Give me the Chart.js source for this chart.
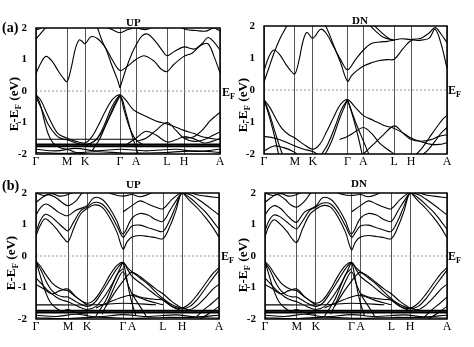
<!DOCTYPE html>
<html>
<head>
<meta charset="utf-8">
<script src="https://cdn.jsdelivr.net/npm/chart.js@4"></script>
<style>
body{margin:0;background:#fff;width:474px;height:347px;position:relative;overflow:hidden;font-family:"Liberation Serif",serif;color:#000;}
canvas{position:absolute;}
.lbl{position:absolute;font-weight:bold;white-space:nowrap;line-height:1;}
.yl{position:absolute;font-weight:bold;white-space:nowrap;font-size:13px;line-height:1;transform:translate(-50%,-50%) rotate(-90deg);}
.ef{position:absolute;font-weight:bold;font-size:12px;line-height:1;}
sub{font-size:70%;vertical-align:-3px;}
</style>
</head>
<body>
<canvas id="c1" width="237" height="172" style="left:0;top:0"></canvas>
<canvas id="c2" width="237" height="172" style="left:237px;top:0"></canvas>
<canvas id="c3" width="237" height="175" style="left:0;top:172px"></canvas>
<canvas id="c4" width="237" height="175" style="left:237px;top:172px"></canvas>

<div class="lbl" style="left:2px;top:21px;font-size:14px">(a)</div>
<div class="lbl" style="left:2px;top:179px;font-size:14px">(b)</div>
<div class="lbl" style="left:126px;top:17px;font-size:11px">UP</div>
<div class="lbl" style="left:352px;top:15px;font-size:11px">DN</div>
<div class="lbl" style="left:126px;top:179px;font-size:11px">UP</div>
<div class="lbl" style="left:351px;top:178px;font-size:11px">DN</div>
<div class="yl" style="left:15px;top:104px">E-E<sub>F</sub> (eV)</div>
<div class="yl" style="left:244px;top:105px">E-E<sub>F</sub> (eV)</div>
<div class="yl" style="left:12px;top:263px">E-E<sub>F</sub> (eV)</div>
<div class="yl" style="left:244px;top:265px">E-E<sub>F</sub> (eV)</div>
<div class="ef" style="left:222px;top:86px">E<sub>F</sub></div>
<div class="ef" style="left:448px;top:84px">E<sub>F</sub></div>
<div class="ef" style="left:221px;top:250px">E<sub>F</sub></div>
<div class="ef" style="left:448px;top:250px">E<sub>F</sub></div>

<script>
// high-symmetry path
var kLabels = ['Γ', 'M', 'K', 'Γ', 'A', 'L', 'H', 'A'];
var kPosA = [0, 31, 49, 84, 100, 131, 148, 184];
var kPosB = [0, 32, 51, 87, 96, 127, 146, 183];

// (a) spin up
var aUpBands = [
  [[0,0.55],[5,0.9],[10,1.1],[16,0.95],[22,0.65],[27,0.42],[31,0.3],[35,0.7],[39,1.3],[43,1.62],[46,1.58],[49,1.5],[55,1.72],[62,1.65],[70,1.35],[77,0.95],[84,0.65],[92,0.8],[100,1.0],[108,1.12],[118,0.95],[125,0.7],[131,0.62],[138,0.85],[148,1.1],[156,1.2],[165,1.45],[172,1.5],[178,1.1],[184,0.58]],
  [[84,0.1],[90,0.7],[96,1.2],[100,1.45],[106,1.75],[112,1.8],[120,1.55],[126,1.3],[131,1.12],[138,1.25],[148,1.4],[158,1.33],[166,1.5],[172,1.7],[178,1.55],[184,1.3]],
  [[58,2.25],[61,2.05],[66,1.6],[71,1.25],[76,0.8],[81,0.4],[84,0.1]],
  [[0,1.65],[4,1.8],[8,1.95],[12,2.1]],
  [[0,1.95],[4,1.98],[8,2.1]],
  [[66,2.1],[76,1.95],[84,1.85],[92,1.95],[100,2.0],[110,1.95],[120,2.1]],
  [[140,2.1],[150,1.95],[160,1.92],[170,1.9],[178,2.0],[184,1.9]],
  [[0,-0.12],[5,-0.3],[10,-0.65],[16,-1.05],[22,-1.35],[31,-1.5],[40,-1.6],[49,-1.65],[56,-1.45],[63,-1.05],[70,-0.6],[77,-0.25],[84,-0.12],[90,-0.3],[96,-0.55],[100,-0.65],[110,-0.8],[120,-0.95],[131,-1.05],[140,-1.15],[148,-1.25],[158,-1.35],[166,-1.45],[174,-1.5],[184,-1.55]],
  [[148,-1.5],[158,-1.45],[166,-1.25],[174,-0.95],[180,-0.78],[184,-0.68]],
  [[100,-1.6],[110,-1.5],[120,-1.25],[131,-1.0],[140,-1.25],[148,-1.5],[158,-1.6],[168,-1.55],[176,-1.42],[184,-1.3]],
  [[88,-1.75],[100,-1.5],[110,-1.28],[120,-1.4],[131,-1.62],[140,-1.55],[148,-1.45],[158,-1.52],[168,-1.65],[176,-1.6],[184,-1.5]],
  [[49,-1.75],[60,-1.55],[68,-1.1],[76,-0.5],[84,-0.15],[90,-0.7],[95,-1.3],[100,-1.8],[103,-2.1]],
  [[56,-1.9],[64,-1.5],[72,-0.9],[80,-0.35],[84,-0.15],[88,-0.6],[94,-1.2],[100,-1.55],[108,-1.72]],
  [[0,-0.12],[4,-0.4],[8,-0.9],[12,-1.35],[17,-1.65],[24,-1.8],[31,-1.85],[40,-1.95],[49,-2.0]],
  [[0,-0.2],[6,-0.6],[12,-1.05],[20,-1.4],[26,-1.52],[31,-1.55],[40,-1.65],[49,-1.7],[58,-1.6],[66,-1.3],[74,-0.8],[80,-0.4],[84,-0.15]],
  [[0,-1.53],[50,-1.53],[100,-1.53]],
  [[0,-1.85],[20,-1.9],[40,-1.82],[60,-1.9],[84,-1.85],[110,-1.9],[140,-1.85],[160,-1.92],[184,-1.85]],
  [[0,-1.95],[30,-1.98],[60,-1.93],[90,-1.97],[130,-1.95],[160,-1.9],[184,-1.95]]
];
var aUpFlat = [
  [[0,-1.7],[184,-1.7]],
  [[0,-1.75],[184,-1.75]]
];

// (a) spin down
var aDnBands = [
  [[0,0.6],[5,1.05],[10,1.25],[16,1.1],[22,0.8],[27,0.6],[31,0.5],[35,0.9],[39,1.5],[43,1.8],[49,1.62],[57,1.9],[63,1.75],[70,1.35],[77,0.95],[84,0.63],[92,0.95],[100,1.25],[108,1.45],[116,1.5],[124,1.52],[131,1.56],[138,1.6],[148,1.58],[158,1.62],[166,1.78],[172,1.95],[178,1.75],[184,1.48]],
  [[55,2.3],[62,2.0],[70,1.4],[77,0.85],[84,0.27],[88,0.45],[94,0.62],[100,0.75],[108,0.85],[116,0.92],[124,0.95],[131,0.96],[140,1.3],[148,1.55],[156,1.55],[166,1.62],[172,1.9],[178,1.45],[184,0.68]],
  [[0,0.25],[5,0.7],[10,1.15],[16,1.6],[22,1.95],[26,2.2]],
  [[104,2.1],[112,1.85],[120,1.65],[131,1.55]],
  [[108,2.1],[118,1.8],[126,1.6],[131,1.56]],
  [[0,-0.3],[6,-0.55],[12,-0.9],[18,-1.2],[25,-1.4],[31,-1.5],[40,-1.7],[49,-1.85],[56,-1.7],[63,-1.3],[70,-0.85],[77,-0.45],[84,-0.3],[92,-0.55],[100,-0.8],[110,-0.95],[120,-1.1],[131,-1.2],[140,-1.35],[148,-1.5],[158,-1.62],[168,-1.7],[176,-1.7],[184,-1.65]],
  [[150,-2.1],[158,-1.85],[166,-1.5],[174,-1.15],[180,-0.9],[184,-0.8]],
  [[156,-2.1],[164,-1.9],[172,-1.6],[178,-1.35],[184,-1.17]],
  [[100,-2.0],[110,-1.7],[120,-1.4],[131,-1.12],[140,-1.35],[148,-1.55],[158,-1.6],[168,-1.55],[176,-1.45],[184,-1.4]],
  [[76,-1.55],[84,-1.45],[92,-1.3],[100,-1.17],[108,-1.35],[116,-1.65],[124,-1.85],[131,-2.0]],
  [[84,-0.3],[90,-0.9],[95,-1.5],[99,-2.05]],
  [[84,-0.3],[92,-1.0],[100,-1.6],[106,-2.05]],
  [[56,-2.1],[64,-1.7],[72,-1.1],[78,-0.6],[84,-0.3]],
  [[60,-2.1],[68,-1.6],[76,-0.9],[84,-0.3]],
  [[0,-0.3],[5,-0.7],[10,-1.2],[15,-1.7],[19,-2.05]],
  [[0,-0.3],[6,-0.9],[11,-1.5],[15,-2.05]],
  [[0,-1.45],[10,-1.5],[20,-1.6],[31,-1.75],[40,-1.85],[49,-1.92],[56,-2.05]],
  [[0,-1.9],[10,-1.75],[20,-1.8],[31,-1.95],[36,-2.1]]
];
var aDnFlat = [];

// (b) spin up
var bUpBands = [
  [[0,0.65],[4,0.95],[9,1.18],[15,1.05],[22,0.8],[28,0.55],[32,0.45],[38,0.9],[45,1.35],[51,1.5],[58,1.62],[66,1.55],[74,1.2],[81,0.75],[87,0.22],[91,0.45],[96,0.6],[104,0.65],[112,0.62],[120,0.58],[127,0.55],[134,0.95],[140,1.45],[146,2.0],[154,1.75],[162,1.5],[170,1.2],[177,0.9],[183,0.6]],
  [[0,0.75],[4,1.1],[9,1.32],[15,1.25],[22,1.05],[28,0.88],[32,0.8],[38,1.1],[45,1.45],[51,1.55],[58,1.7],[66,1.65],[74,1.35],[81,0.95],[87,0.6],[91,0.75],[96,0.95],[104,0.98],[112,0.9],[120,0.82],[127,0.78],[134,1.15],[140,1.6],[146,2.0],[154,1.85],[162,1.62],[170,1.38],[177,1.1],[183,0.85]],
  [[0,1.3],[5,1.55],[10,1.65],[16,1.55],[22,1.4],[28,1.3],[32,1.28],[40,1.45],[51,1.6],[58,1.85],[66,1.8],[74,1.5],[81,1.1],[87,0.7],[96,1.2],[104,1.35],[112,1.3],[120,1.15],[127,1.1],[134,1.45],[140,1.75],[146,2.0],[154,1.95],[162,1.8],[170,1.62],[177,1.45],[183,1.3]],
  [[0,1.7],[6,1.85],[12,1.95],[20,1.85],[26,1.7],[32,1.6],[40,1.75],[46,2.0],[51,2.1]],
  [[0,2.0],[8,1.92],[16,1.98],[24,1.9],[32,1.95],[40,2.1]],
  [[66,2.1],[78,1.95],[87,1.9],[96,1.95],[104,1.88],[112,1.95],[120,2.1]],
  [[87,1.4],[96,1.6],[104,1.75],[112,1.65],[120,1.55],[127,1.5],[136,1.8],[146,2.05]],
  [[150,2.1],[160,1.95],[170,1.9],[183,1.85]],
  [[0,-0.16],[5,-0.35],[10,-0.6],[16,-0.85],[22,-1.0],[28,-1.08],[32,-1.1],[40,-1.3],[51,-1.5],[58,-1.4],[66,-1.05],[74,-0.6],[81,-0.3],[87,-0.2],[91,-0.35],[96,-0.5],[104,-0.7],[112,-0.9],[120,-1.15],[127,-1.35],[136,-1.55],[146,-1.65],[154,-1.5],[162,-1.2],[170,-0.85],[177,-0.55],[183,-0.37]],
  [[0,-0.2],[5,-0.45],[10,-0.8],[16,-1.1],[22,-1.25],[28,-1.3],[32,-1.3],[40,-1.45],[51,-1.6],[58,-1.5],[66,-1.15],[74,-0.75],[81,-0.4],[87,-0.22],[92,-0.45],[96,-0.65],[104,-0.85],[112,-1.05],[120,-1.25],[127,-1.4],[136,-1.6],[146,-1.68],[154,-1.6],[162,-1.35],[170,-1.0],[177,-0.7],[183,-0.45]],
  [[70,-1.6],[80,-1.1],[87,-0.8],[92,-0.6],[96,-0.52],[104,-0.65],[112,-0.85],[120,-1.05],[127,-1.2],[136,-1.45],[146,-1.65],[154,-1.7],[162,-1.55],[170,-1.3],[177,-1.05],[183,-0.9]],
  [[0,-0.16],[4,-0.6],[9,-1.1],[14,-1.45],[20,-1.65],[26,-1.75],[32,-1.7],[40,-1.8],[51,-1.85]],
  [[0,-0.7],[6,-0.9],[12,-1.1],[20,-1.3],[26,-1.4],[32,-1.45],[42,-1.6],[51,-1.7],[60,-1.6],[68,-1.3],[76,-0.9],[82,-0.55],[87,-0.4]],
  [[60,-1.9],[70,-1.4],[78,-0.8],[84,-0.4],[87,-0.21],[90,-0.6],[93,-1.1],[96,-1.5],[100,-1.9]],
  [[66,-1.85],[74,-1.3],[81,-0.8],[87,-0.5],[92,-0.9],[96,-1.2],[104,-1.6],[110,-1.9]],
  [[0,-0.9],[8,-1.05],[16,-1.2],[24,-1.1],[32,-1.05],[40,-1.3],[51,-1.55]],
  [[60,-1.65],[74,-1.45],[87,-1.3],[96,-1.25],[110,-1.4],[127,-1.55]],
  [[96,-1.2],[104,-1.3],[112,-1.35],[120,-1.38],[127,-1.4],[136,-1.6],[146,-1.75]],
  [[160,-1.95],[168,-1.7],[176,-1.5],[183,-1.3]],
  [[164,-2.0],[172,-1.85],[183,-1.6]],
  [[0,-1.55],[60,-1.55],[87,-1.5],[120,-1.55]],
  [[0,-1.88],[20,-1.92],[40,-1.85],[60,-1.93],[87,-1.86],[110,-1.92],[140,-1.87],[160,-1.93],[183,-1.88]],
  [[0,-1.96],[30,-1.99],[60,-1.94],[96,-1.98],[130,-1.95],[183,-1.97]]
];
var bUpFlat = [
  [[0,-1.74],[183,-1.74]],
  [[0,-1.79],[183,-1.79]]
];

// (b) spin down
var bDnBands = [
  [[0,0.62],[4,0.95],[9,1.15],[15,1.02],[22,0.78],[28,0.52],[32,0.43],[38,0.88],[45,1.32],[51,1.48],[58,1.6],[66,1.55],[74,1.2],[81,0.75],[87,0.2],[91,0.45],[96,0.6],[104,0.65],[112,0.62],[120,0.58],[127,0.55],[134,0.95],[140,1.45],[146,2.0],[154,1.75],[162,1.5],[170,1.2],[177,0.9],[183,0.58]],
  [[0,0.8],[4,1.12],[9,1.3],[15,1.25],[22,1.08],[28,0.92],[32,0.86],[38,1.12],[45,1.45],[51,1.55],[58,1.68],[66,1.65],[74,1.35],[81,0.95],[87,0.6],[91,0.75],[96,0.95],[104,0.98],[112,0.9],[120,0.82],[127,0.78],[134,1.15],[140,1.6],[146,2.0],[154,1.85],[162,1.62],[170,1.38],[177,1.1],[183,0.85]],
  [[0,1.3],[5,1.52],[10,1.6],[16,1.5],[22,1.3],[28,1.12],[32,1.07],[40,1.4],[51,1.58],[58,1.85],[66,1.8],[74,1.5],[81,1.1],[87,0.7],[96,1.2],[104,1.35],[112,1.3],[120,1.15],[127,1.1],[134,1.45],[140,1.75],[146,2.0],[154,1.95],[162,1.8],[170,1.62],[177,1.45],[183,1.3]],
  [[0,1.7],[6,1.85],[12,1.95],[20,1.8],[26,1.62],[32,1.55],[40,1.75],[46,2.0],[51,2.1]],
  [[0,2.0],[8,1.92],[16,1.98],[24,1.9],[32,1.95],[40,2.1]],
  [[66,2.1],[78,1.95],[87,1.92],[96,1.95],[104,1.88],[112,1.95],[120,2.1]],
  [[87,1.4],[96,1.6],[104,1.75],[112,1.65],[120,1.55],[127,1.5],[136,1.8],[146,2.05]],
  [[150,2.1],[160,1.95],[170,1.9],[183,1.85]],
  [[0,-0.18],[5,-0.35],[10,-0.6],[16,-0.85],[22,-1.0],[28,-1.08],[32,-1.1],[40,-1.3],[51,-1.5],[58,-1.4],[66,-1.05],[74,-0.6],[81,-0.3],[87,-0.2],[91,-0.35],[96,-0.5],[104,-0.7],[112,-0.9],[120,-1.15],[127,-1.35],[136,-1.55],[146,-1.65],[154,-1.5],[162,-1.2],[170,-0.85],[177,-0.55],[183,-0.37]],
  [[0,-0.22],[5,-0.45],[10,-0.8],[16,-1.1],[22,-1.25],[28,-1.3],[32,-1.3],[40,-1.45],[51,-1.6],[58,-1.5],[66,-1.15],[74,-0.75],[81,-0.4],[87,-0.22],[92,-0.45],[96,-0.65],[104,-0.85],[112,-1.05],[120,-1.25],[127,-1.4],[136,-1.6],[146,-1.68],[154,-1.6],[162,-1.35],[170,-1.0],[177,-0.7],[183,-0.45]],
  [[70,-1.6],[80,-1.1],[87,-0.8],[92,-0.6],[96,-0.52],[104,-0.65],[112,-0.85],[120,-1.05],[127,-1.2],[136,-1.45],[146,-1.65],[154,-1.7],[162,-1.55],[170,-1.3],[177,-1.05],[183,-0.9]],
  [[0,-0.18],[4,-0.6],[9,-1.1],[14,-1.45],[20,-1.65],[26,-1.75],[32,-1.7],[40,-1.8],[51,-1.85]],
  [[0,-0.7],[6,-0.9],[12,-1.1],[20,-1.3],[26,-1.4],[32,-1.45],[42,-1.6],[51,-1.7],[60,-1.6],[68,-1.3],[76,-0.9],[82,-0.55],[87,-0.4]],
  [[60,-1.9],[70,-1.4],[78,-0.8],[84,-0.4],[87,-0.21],[90,-0.6],[93,-1.1],[96,-1.5],[100,-1.9]],
  [[66,-1.85],[74,-1.3],[81,-0.8],[87,-0.5],[92,-0.9],[96,-1.2],[104,-1.6],[110,-1.9]],
  [[0,-0.9],[8,-1.05],[16,-1.2],[24,-1.1],[32,-1.05],[40,-1.3],[51,-1.55]],
  [[60,-1.65],[74,-1.45],[87,-1.3],[96,-1.25],[110,-1.4],[127,-1.55]],
  [[96,-1.2],[104,-1.3],[112,-1.35],[120,-1.38],[127,-1.4],[136,-1.6],[146,-1.75]],
  [[160,-1.95],[168,-1.7],[176,-1.5],[183,-1.3]],
  [[164,-2.0],[172,-1.85],[183,-1.6]],
  [[0,-1.55],[60,-1.55],[87,-1.5],[120,-1.55]],
  [[0,-1.88],[20,-1.92],[40,-1.85],[60,-1.93],[87,-1.86],[110,-1.92],[140,-1.87],[160,-1.93],[183,-1.88]],
  [[0,-1.96],[30,-1.99],[60,-1.94],[96,-1.98],[130,-1.95],[183,-1.97]]
];
var bDnFlat = [
  [[0,-1.74],[183,-1.74]],
  [[0,-1.79],[183,-1.79]]
];

// box round the plot area
var frame = {
  id: 'frame',
  afterDatasetsDraw: function(chart) {
    var a = chart.chartArea, c = chart.ctx;
    c.save();
    c.strokeStyle = '#000';
    c.lineWidth = 1.5;
    c.strokeRect(a.left, a.top, a.right - a.left, a.bottom - a.top);
    c.restore();
  }
};

function toXY(b) {
  return b.map(function(p) { return {x: p[0], y: p[1]}; });
}

function panel(id, bands, flat, kPos, area) {
  var el = document.getElementById(id);
  var kEnd = kPos[kPos.length - 1];
  var sets = [];
  bands.forEach(function(b) {
    sets.push({data: toXY(b), borderColor: '#000', borderWidth: 1.1, pointRadius: 0, tension: 0.35, clip: 0});
  });
  flat.forEach(function(b) {
    sets.push({data: toXY(b), borderColor: '#000', borderWidth: 2, pointRadius: 0, tension: 0, clip: 0});
  });
  sets.push({data: [{x: 0, y: 0}, {x: kEnd, y: 0}], borderColor: '#999', borderWidth: 1,
             borderDash: [2, 2], pointRadius: 0, clip: 0});

  new Chart(el, {
    type: 'line',
    data: {datasets: sets},
    options: {
      responsive: false,
      animation: false,
      devicePixelRatio: 1,
      layout: {padding: {left: 0, top: area.top, right: el.width - area.right, bottom: 0}},
      plugins: {legend: {display: false}, tooltip: {enabled: false}},
      scales: {
        x: {
          type: 'linear', min: 0, max: kEnd,
          afterBuildTicks: function(s) { s.ticks = kPos.map(function(v) { return {value: v}; }); },
          afterFit: function(s) { s.height = el.height - area.bottom; },
          ticks: {autoSkip: false, maxRotation: 0, padding: 1, color: '#000',
                  font: {family: 'Liberation Serif', size: 12},
                  callback: function(v, i) { return kLabels[i]; }},
          grid: {color: '#555', lineWidth: 1, drawTicks: false},
          border: {display: false}
        },
        y: {
          min: -2, max: 2,
          afterFit: function(s) { s.width = area.left; },
          ticks: {stepSize: 1, padding: 1, color: '#000',
                  font: {family: 'Liberation Serif', size: 11, weight: 'bold'}},
          grid: {display: false},
          border: {display: false}
        }
      }
    },
    plugins: [frame]
  });
}

panel('c1', aUpBands, aUpFlat, kPosA, {left: 36, top: 28, right: 220, bottom: 154});
panel('c2', aDnBands, aDnFlat, kPosA, {left: 27, top: 26, right: 210, bottom: 154});
panel('c3', bUpBands, bUpFlat, kPosB, {left: 36, top: 21, right: 219, bottom: 147});
panel('c4', bDnBands, bDnFlat, kPosB, {left: 28, top: 21, right: 210, bottom: 147});
</script>
</body>
</html>
